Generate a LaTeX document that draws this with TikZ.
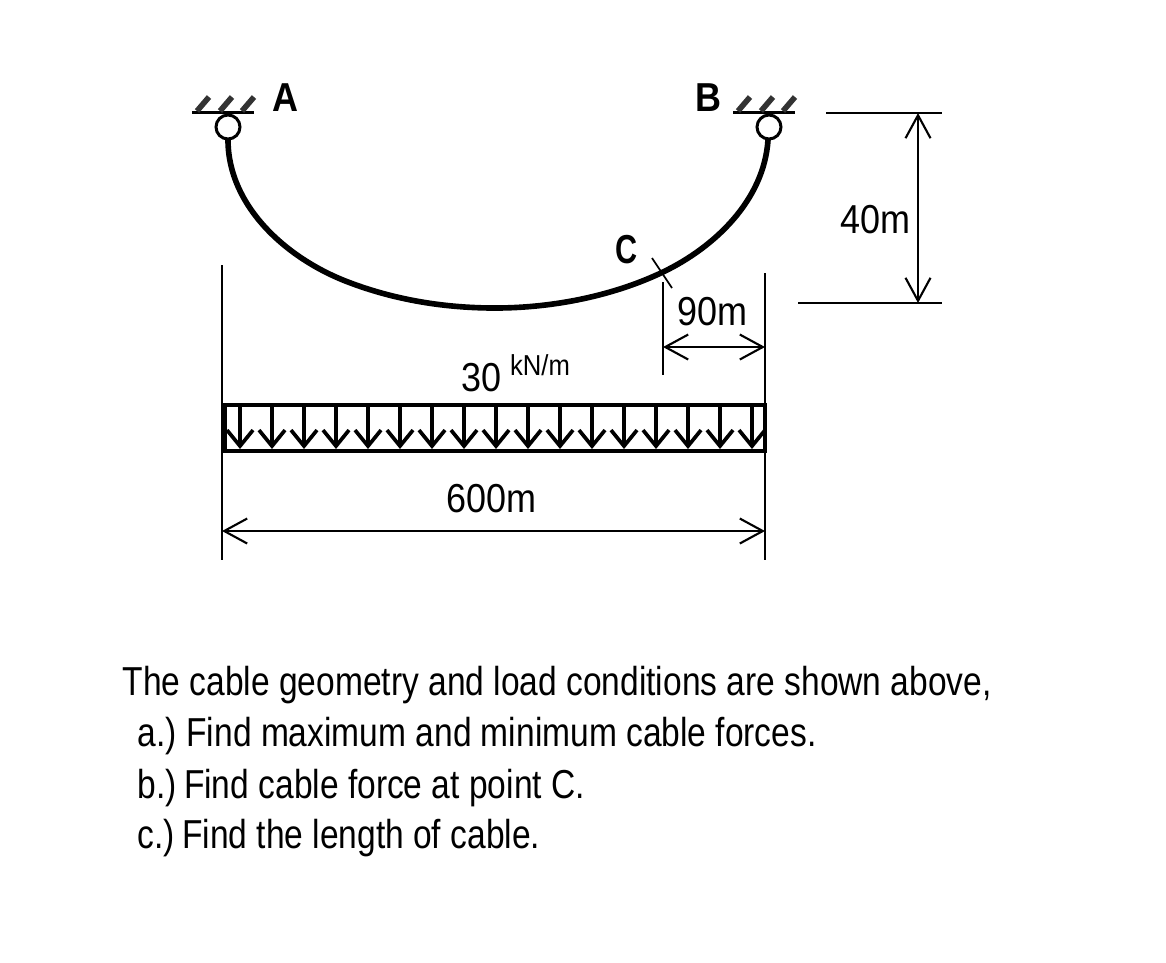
\documentclass[tikz,border=0pt]{standalone}
\usepackage{fontspec}
\setmainfont[FakeStretch=0.89]{Liberation Sans}
\newfontfamily\questfont[FakeStretch=0.83]{Liberation Sans}
\usetikzlibrary{arrows.meta}
\tikzset{
  dimarrow/.style={line width=0.6pt,{Straight Barb[length=2.3mm,width=2.5mm,line width=0.6pt]}-{Straight Barb[length=2.3mm,width=2.5mm,line width=0.6pt]}},
  dimline/.style={line width=0.6pt},
  pointlabel/.style={font=\fontsize{11.5}{13}\selectfont\bfseries,inner sep=0pt},
  sizelabel/.style={font=\fontsize{11.5}{14}\selectfont,inner sep=0pt},
  textline/.style={font=\fontsize{11.5}{14}\selectfont\questfont,inner sep=0pt,anchor=base west},
  loadarrow/.style={line width=1.05pt,-{Straight Barb[length=1.6mm,width=2.6mm,line width=1.05pt]}}
}
\begin{document}
\begin{tikzpicture}[x=0.1mm,y=-0.1mm]
\useasboundingbox (0,0) rectangle (1166,962);
% Supports
\foreach \s/\x in {A/228,B/769} {
  \draw[line width=0.7pt] (\x-36,112.5) -- (\x+26,112.5);
  \foreach \d in {-31,-8,14}
    \draw[line width=1.6pt,black!80] (\x+\d,111) -- (\x+\d+12,97);
  \node[draw,circle,line width=0.85pt,minimum size=2.4mm,inner sep=0pt,fill=white] (pin\s) at (\x,127) {};
}
% Cable
\draw[line width=1.6pt] (228,140) .. controls (228,205) and (285,258) .. (348,282)
  .. controls (395,300) and (445,308) .. (495,308)
  .. controls (555,308) and (615,295) .. (663,272)
  .. controls (715,247) and (764,200) .. (768,140);
\draw[line width=0.5pt] (652,258) -- (672,288);
% Labels at the points
\node[pointlabel] (labA) at (285,98) {A};
\node[pointlabel] (labB) at (708,98) {B};
\node[pointlabel,xscale=0.85] (labC) at (627,250) {C};
% Vertical limits
\coordinate (L1) at (222,265);
\coordinate (L2) at (222,560);
\coordinate (R1) at (765,273);
\coordinate (R2) at (765,560);
\coordinate (C1) at (663,282);
\coordinate (C2) at (663,375);
\draw[dimline] (L1) -- (L2);
\draw[dimline] (R1) -- (R2);
\draw[dimline] (C1) -- (C2);
% Dimensions
\coordinate (a90) at (663,347);
\coordinate (b90) at (765,347);
\draw[dimarrow] (a90) -- (b90);
\node[sizelabel] (dim90) at (712,312) {90m};
\coordinate (a600) at (222,531);
\coordinate (b600) at (765,531);
\draw[dimarrow] (a600) -- (b600);
\node[sizelabel] (dim600) at (491,499) {600m};
\coordinate (h1) at (826,113);
\coordinate (h2) at (942,113);
\coordinate (h3) at (798,303);
\coordinate (h4) at (942,303);
\draw[dimline] (h1) -- (h2);
\draw[dimline] (h3) -- (h4);
\coordinate (a40) at (918,113);
\coordinate (b40) at (918,303);
\draw[dimarrow] (a40) -- (b40);
\node[sizelabel] (dim40) at (875,220) {40m};
% Distributed load
\draw[line width=1.15pt] (225,405) rectangle (765,451);
\foreach \x in {0,...,16}
  \draw[loadarrow] (240+32*\x,405) -- (240+32*\x,449);
\node[sizelabel] (load) at (481,378) {30};
\node[font=\fontsize{8.2}{10}\selectfont,inner sep=0pt] (unit) at (540,365) {kN/m};
% Question
\node[textline] (q0) at (122,695) {The cable geometry and load conditions are shown above,};
\node[textline] (q1) at (137,746) {a.)\kern-.8pt{} Find maximum and minimum cable forces.};
\node[textline] (q2) at (137,798) {b.)\kern-1.5pt{} Find cable force at point C.};
\node[textline] (q3) at (137,848) {c.)\kern-1.5pt{} Find the length of cable.};
\end{tikzpicture}
\end{document}
